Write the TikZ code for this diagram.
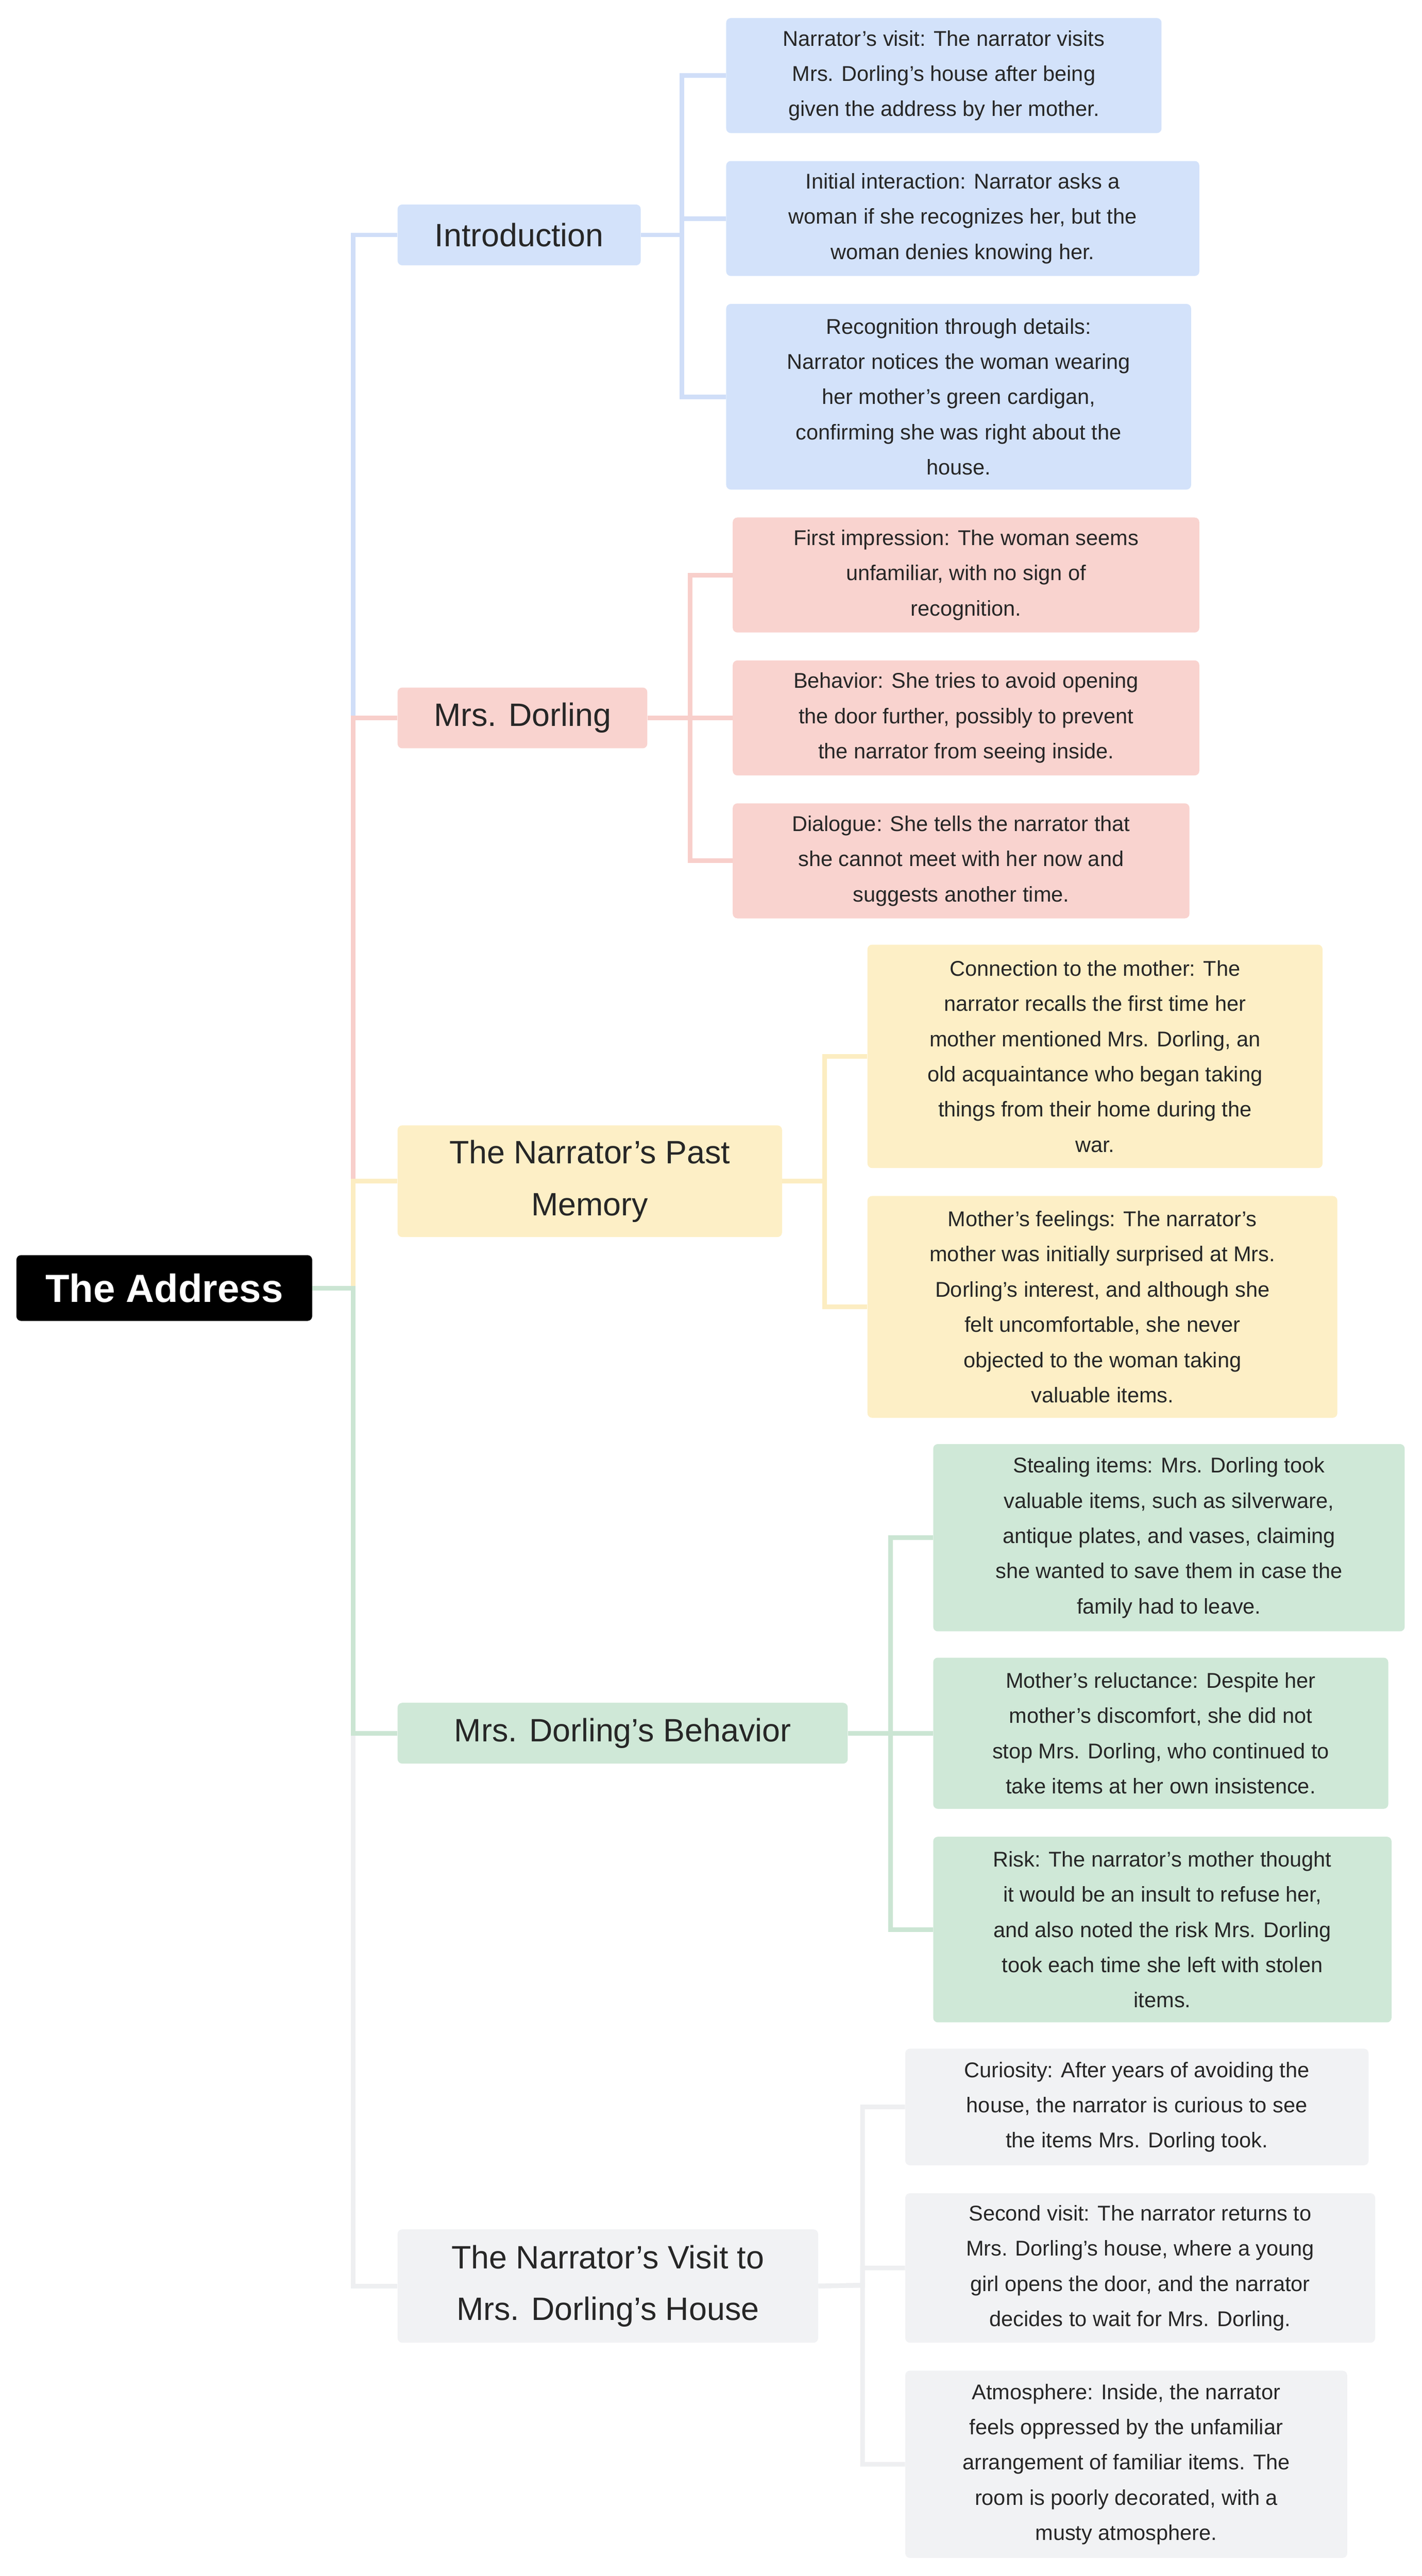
\documentclass[tikz,border=0pt]{standalone}
\usepackage{fontspec}
\setmainfont{Liberation Sans}
\usetikzlibrary{calc}
\definecolor{introfill}{HTML}{D3E2FA}
\definecolor{introline}{HTML}{D0DEF8}
\definecolor{dorlfill}{HTML}{F9D3CF}
\definecolor{dorlline}{HTML}{F8CFCB}
\definecolor{memfill}{HTML}{FDEFC6}
\definecolor{memline}{HTML}{FCEDC2}
\definecolor{behfill}{HTML}{CFE8D7}
\definecolor{behline}{HTML}{CBE5D3}
\definecolor{visfill}{HTML}{F1F2F4}
\definecolor{visline}{HTML}{EEEFF1}
\begin{document}
\begin{tikzpicture}[x=0.05cm,y=-0.05cm]

\tikzstyle{rootb} = [fill=black, text=white, rounded corners=4pt, inner sep=0,
font=\fontsize{34}{40}\selectfont\bfseries, minimum width=9cm, minimum height=2cm]
\tikzstyle{branch} = [rounded corners=4pt, inner sep=0, align=center,
font=\fontsize{28}{45}\selectfont, text=black!85]
\tikzstyle{leaf} = [rounded corners=4pt, inner sep=0, align=center,
font=\fontsize{18.5}{30.5}\selectfont, text=black!85]
\tikzstyle{link} = [line width=4pt]

\useasboundingbox (0,0) rectangle (865.4,1568);

% root
\node[rootb] (root) at (100,784) {The Address};

% branches
\node[branch, fill=introfill, minimum width=7.4cm, minimum height=1.85cm] (intro) at (316,143) {Introduction};
\node[branch, fill=dorlfill, minimum width=7.6cm, minimum height=1.85cm] (dorl) at (318,437) {Mrs. Dorling};
\node[branch, fill=memfill, minimum width=11.7cm, minimum height=3.4cm] (mem) at (359,719) {The Narrator’s Past\\Memory};
\node[branch, fill=behfill, minimum width=13.7cm, minimum height=1.85cm] (beh) at (379,1055) {Mrs. Dorling’s Behavior};
\node[branch, fill=visfill, minimum width=12.8cm, minimum height=3.45cm] (vis) at (370,1391.5) {The Narrator's Visit to\\Mrs. Dorling's House};

% root links (outer first)
\coordinate (rj) at (215,784);
\draw[link, introline] (root.east) -- (rj) |- (intro.west);
\draw[link, dorlline] (rj) |- (dorl.west);
\draw[link, memline] (rj) |- (mem.west);
\draw[link, visline] (root.east) -- (rj) |- (vis.west);
\draw[link, behline] (root.east) -- (rj) |- (beh.west);

% introduction leaves
\node[leaf, fill=introfill, minimum width=13.25cm, minimum height=3.5cm] (intro-a) at (574.5,46) {Narrator's visit: The narrator visits\\Mrs. Dorling’s house after being\\given the address by her mother.};
\node[leaf, fill=introfill, minimum width=14.4cm, minimum height=3.5cm] (intro-b) at (586,133) {Initial interaction: Narrator asks a\\woman if she recognizes her, but the\\woman denies knowing her.};
\node[leaf, fill=introfill, minimum width=14.15cm, minimum height=5.65cm] (intro-c) at (583.5,241.5) {Recognition through details:\\Narrator notices the woman wearing\\her mother’s green cardigan,\\confirming she was right about the\\house.};
\coordinate (ij) at (415,143);
\foreach \n in {intro-a,intro-b,intro-c} \draw[link, introline] (intro.east) -- (ij) |- (\n.west);

% mrs dorling leaves
\node[leaf, fill=dorlfill, minimum width=14.2cm, minimum height=3.5cm] (dorl-a) at (588,350) {First impression: The woman seems\\unfamiliar, with no sign of\\recognition.};
\node[leaf, fill=dorlfill, minimum width=14.2cm, minimum height=3.5cm] (dorl-b) at (588,437) {Behavior: She tries to avoid opening\\the door further, possibly to prevent\\the narrator from seeing inside.};
\node[leaf, fill=dorlfill, minimum width=13.9cm, minimum height=3.5cm] (dorl-c) at (585,524) {Dialogue: She tells the narrator that\\she cannot meet with her now and\\suggests another time.};
\coordinate (dj) at (420,437);
\foreach \n in {dorl-a,dorl-b,dorl-c} \draw[link, dorlline] (dorl.east) -- (dj) |- (\n.west);

% memory leaves
\node[leaf, fill=memfill, minimum width=13.85cm, minimum height=6.8cm] (mem-a) at (666.5,643) {Connection to the mother: The\\narrator recalls the first time her\\mother mentioned Mrs. Dorling, an\\old acquaintance who began taking\\things from their home during the\\war.};
\node[leaf, fill=memfill, minimum width=14.3cm, minimum height=6.75cm] (mem-b) at (671,795.5) {Mother's feelings: The narrator’s\\mother was initially surprised at Mrs.\\Dorling’s interest, and although she\\felt uncomfortable, she never\\objected to the woman taking\\valuable items.};
\coordinate (mj) at (502,719);
\foreach \n in {mem-a,mem-b} \draw[link, memline] (mem.east) -- (mj) |- (\n.west);

% behavior leaves
\node[leaf, fill=behfill, minimum width=14.35cm, minimum height=5.7cm] (beh-a) at (711.5,936) {Stealing items: Mrs. Dorling took\\valuable items, such as silverware,\\antique plates, and vases, claiming\\she wanted to save them in case the\\family had to leave.};
\node[leaf, fill=behfill, minimum width=13.85cm, minimum height=4.6cm] (beh-b) at (706.5,1055) {Mother’s reluctance: Despite her\\mother’s discomfort, she did not\\stop Mrs. Dorling, who continued to\\take items at her own insistence.};
\node[leaf, fill=behfill, minimum width=13.95cm, minimum height=5.65cm] (beh-c) at (707.5,1174.5) {Risk: The narrator’s mother thought\\it would be an insult to refuse her,\\and also noted the risk Mrs. Dorling\\took each time she left with stolen\\items.};
\coordinate (bj) at (542,1055);
\foreach \n in {beh-a,beh-b,beh-c} \draw[link, behline] (beh.east) -- (bj) |- (\n.west);

% visit leaves
\node[leaf, fill=visfill, minimum width=14.1cm, minimum height=3.55cm] (vis-a) at (692,1282.5) {Curiosity: After years of avoiding the\\house, the narrator is curious to see\\the items Mrs. Dorling took.};
\node[leaf, fill=visfill, minimum width=14.3cm, minimum height=4.55cm] (vis-b) at (694,1380.5) {Second visit: The narrator returns to\\Mrs. Dorling’s house, where a young\\girl opens the door, and the narrator\\decides to wait for Mrs. Dorling.};
\node[leaf, fill=visfill, minimum width=13.45cm, minimum height=5.7cm] (vis-c) at (685.5,1500) {Atmosphere: Inside, the narrator\\feels oppressed by the unfamiliar\\arrangement of familiar items. The\\room is poorly decorated, with a\\musty atmosphere.};
\coordinate (vj) at (525,1391);
\foreach \n in {vis-a,vis-b,vis-c} \draw[link, visline] (vis.east) -- (vj) |- (\n.west);

\end{tikzpicture}
\end{document}
